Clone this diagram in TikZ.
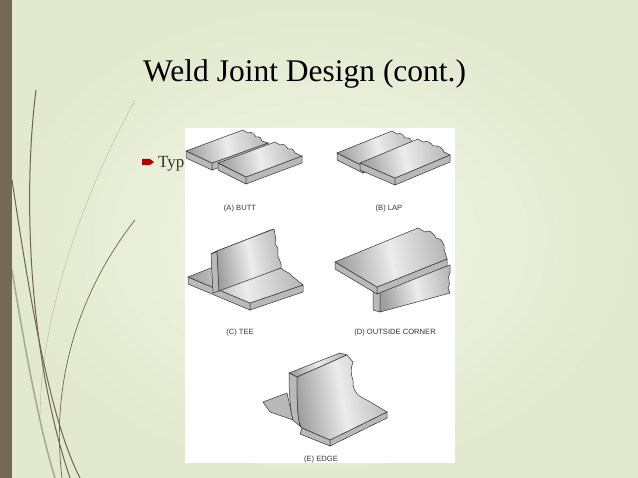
\documentclass[tikz,border=0pt]{standalone}
\usepackage{fontspec}
\setmainfont{Liberation Serif}
\newfontfamily\lab{Liberation Sans}
\definecolor{bgout}{RGB}{226,233,206}
\definecolor{bgin}{RGB}{243,246,232}
\definecolor{barc}{RGB}{115,106,85}
\definecolor{grassc}{RGB}{110,100,80}
\begin{document}
\begin{tikzpicture}[x=1pt,y=-1pt,
  top/.style={draw=black!80,line width=0.5pt,left color=gray!75,right color=gray!55,middle color=gray!15,shading angle=100},
  side/.style={draw=black!80,line width=0.5pt,fill=gray!55},
  lbl/.style={font=\lab\fontsize{7.6}{9}\selectfont,text=black!80},
  grass/.style={draw=grassc,line width=1pt}]
\useasboundingbox (0,0) rectangle (638,478);
\fill[inner color=bgin,outer color=bgout] (0,0) rectangle (638,478);
\fill[barc] (0,0) rectangle (12,478);
% grass strokes
\draw[grass] (36,90) .. controls (22,200) and (30,360) .. (70,478);
\draw[grass] (12,180) .. controls (30,300) and (50,420) .. (80,478);
\draw[grass,line width=0.7pt] (135,220) .. controls (80,290) and (50,380) .. (62,478);
\draw[grass,line width=0.4pt,opacity=0.4] (135,100) .. controls (80,200) and (40,320) .. (40,420);
\draw[grass,line width=1.5pt,opacity=0.5] (12,270) .. controls (25,350) and (40,430) .. (55,478);
\node[anchor=base west,font=\fontsize{31.5}{36}\selectfont,inner sep=0pt] (title) at (143,82) {Weld Joint Design (cont.)};
\fill[red!70!black] (142,159) rectangle (150,165) (150,159) -- (154,162) -- (150,165);
\node[anchor=base west,font=\fontsize{17}{20}\selectfont,text=black!80,inner sep=0pt] (ty) at (158,168) {Types};
\fill[white] (185,128) rectangle (455,463);
% butt
\draw[side] (186,151) -- (212,163) -- (212,170) -- (186,158) -- cycle;
\draw[side] (212,163) -- (268,143) -- (268,150) -- (212,170) -- cycle;
\draw[top] (186,151) -- (243,130) -- (248,133) .. controls (252,131) and (254,134) .. (256,137) .. controls (260,136) and (262,139) .. (262,141) -- (268,143) -- (212,163) -- cycle;
\draw[side] (218,163) -- (246,177) -- (246,184) -- (218,170) -- cycle;
\draw[side] (246,177) -- (302,156) -- (302,163) -- (246,184) -- cycle;
\draw[top] (218,163) -- (275,142) -- (280,145) .. controls (284,143) and (286,146) .. (288,149) .. controls (293,148) and (295,151) .. (295,153) -- (302,156) -- (246,177) -- cycle;
% lap
\draw[side] (337,153) -- (363,166) -- (363,173) -- (337,160) -- cycle;
\draw[side] (363,166) -- (418,145) -- (418,152) -- (363,173) -- cycle;
\draw[top] (337,153) -- (392,131) -- (397,134) .. controls (401,132) and (403,135) .. (405,138) .. controls (410,137) and (412,140) .. (412,142) -- (418,145) -- (363,166) -- cycle;
\draw[side] (360,163) -- (395,178) -- (395,185) -- (360,170) -- cycle;
\draw[side] (395,178) -- (450,155) -- (450,162) -- (395,185) -- cycle;
\draw[top] (360,163) -- (418,139) -- (423,142) .. controls (428,140) and (431,143) .. (433,146) .. controls (440,145) and (443,149) .. (444,152) -- (450,155) -- (395,178) -- cycle;
% tee
\draw[side] (188,277) -- (250,303) -- (250,310) -- (188,284) -- cycle;
\draw[side] (250,303) -- (303,285) -- (303,292) -- (250,310) -- cycle;
\draw[top] (188,277) -- (216,266) -- (216,289) -- (281,268) .. controls (284,272) and (290,272) .. (292,276) -- (303,285) -- (250,303) -- cycle;
\draw[side] (211,254) -- (217,251) -- (219,291) -- (213,293) -- cycle;
\draw[side] (211,254) -- (268,231) -- (274,229) -- (217,251) -- cycle;
\draw[top] (217,251) -- (274,229) -- (276,240) .. controls (272,244) and (280,247) .. (278,252) .. controls (276,258) and (283,262) .. (281,268) -- (219,291) -- cycle;
% outside corner
\draw[side] (373,292) -- (380,290) -- (380,312) -- (373,310) -- cycle;
\draw[top] (380,290) -- (450,265) -- (450,273) .. controls (446,278) and (452,283) .. (448,288) -- (450,293) -- (380,312) -- cycle;
\draw[side] (335,262) -- (377,287) -- (377,294) -- (335,269) -- cycle;
\draw[side] (377,287) -- (447,259) -- (447,266) -- (377,294) -- cycle;
\draw[top] (335,262) -- (418,228) -- (425,232) .. controls (430,229) and (433,233) .. (436,238) .. controls (442,238) and (445,245) .. (444,249) -- (447,259) -- (377,287) -- cycle;
% edge
\draw[side] (263,402) -- (287,393) -- (293,420) -- (270,412) -- cycle;
\draw[top] (289,373) -- (340,353) -- (347,355) -- (297,377) -- cycle;
\draw[side] (289,373) -- (297,377) .. controls (297,410) and (298,425) .. (302,428) -- (293,420) .. controls (290,410) and (289,390) .. cycle;
\draw[side] (302,428) -- (330,440) -- (330,446) -- (300,434) -- cycle;
\draw[side] (330,440) -- (387,412) -- (387,418) -- (330,446) -- cycle;
\draw[top] (297,377) -- (347,355) -- (353,362) .. controls (348,375) and (355,380) .. (353,385) .. controls (355,395) and (362,398) .. (367,400) -- (387,412) -- (330,440) -- (302,428) .. controls (298,425) and (297,410) .. cycle;
\node[lbl] (la) at (240,209) {(A) BUTT};
\node[lbl] (lb) at (389,209) {(B) LAP};
\node[lbl] (lc) at (240,333) {(C) TEE};
\node[lbl] (ld) at (395,333) {(D) OUTSIDE CORNER};
\node[lbl] (le) at (321,460) {(E) EDGE};
\end{tikzpicture}
\end{document}
